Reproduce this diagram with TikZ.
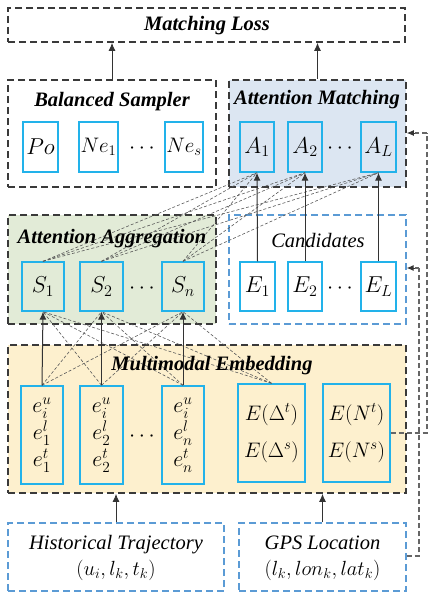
\RequirePackage{fix-cm}
\documentclass[tikz,border=0pt]{standalone}
\usepackage{fontspec}
\setmainfont{Liberation Serif}
\usetikzlibrary{arrows.meta}
\definecolor{cyanb}{HTML}{22B2EA}
\definecolor{blued}{HTML}{5B9BD5}
\definecolor{grpd}{HTML}{3A3A3A}
\definecolor{fblue}{HTML}{DCE6F2}
\definecolor{fgreen}{HTML}{E2EBD7}
\definecolor{fyel}{HTML}{FDF0CE}
\tikzset{
  grp/.style={draw=grpd, line width=1.6pt, dash pattern=on 7pt off 4pt, inner sep=0pt},
  bgrp/.style={draw=blued, line width=1.3pt, dash pattern=on 7pt off 4pt, inner sep=0pt},
  cell/.style={draw=cyanb, line width=1.4pt, inner sep=0pt, font=\fontsize{23}{26}\selectfont},
  ttl/.style={font=\fontsize{20.5}{22}\selectfont\bfseries\itshape, text=black},
  ttn/.style={font=\fontsize{20.5}{22}\selectfont\itshape, text=black},
  sarr/.style={draw=black!80, line width=1pt, -{Latex[length=8pt,width=7pt]}},
  darr/.style={draw=black!65, line width=0.6pt, dash pattern=on 3pt off 2pt},
  fb/.style={draw=black!60, line width=1.1pt, dash pattern=on 5pt off 3pt},
  dots/.style={font=\fontsize{22}{22}\selectfont},
  estack/.style={cell, align=center, font=\fontsize{22}{27}\selectfont, minimum height=98pt},
  dstack/.style={cell, align=center, font=\fontsize{21}{37}\selectfont, minimum width=67pt, minimum height=98pt}
}
\begin{document}
\begin{tikzpicture}[x=1pt,y=-1pt]
\useasboundingbox (0,0) rectangle (441,605);
% group boxes
\node[grp, minimum width=397pt, minimum height=34pt] (loss) at (206.5,25) {};
\node[grp, minimum width=208pt, minimum height=107pt] (bs) at (112,133.5) {};
\node[grp, fill=fblue, minimum width=177pt, minimum height=107pt] (am) at (317.5,133.5) {};
\node[grp, fill=fgreen, minimum width=208pt, minimum height=109pt] (aa) at (112,269.5) {};
\node[bgrp, minimum width=177pt, minimum height=109pt] (cand) at (317.5,269.5) {};
\node[grp, fill=fyel, minimum width=398pt, minimum height=148pt] (me) at (207,419) {};
\node[bgrp, minimum width=216pt, minimum height=68pt] (ht) at (116,557) {};
\node[bgrp, minimum width=167pt, minimum height=68pt] (gps) at (322.5,557) {};
% titles
\node[ttl] (tloss) at (207,26) {Matching Loss};
\node[ttl] (tbs) at (112,102) {Balanced Sampler};
\node[ttl] (tam) at (317,100) {Attention Matching};
\node[ttn] (tcand) at (318,240) {Candidates};
\node[ttn, align=center, font=\fontsize{20.5}{26}\selectfont\itshape] (tht) at (116,558) {Historical Trajectory\\$(u_i,l_k,t_k)$};
\node[ttn, align=center, font=\fontsize{20.5}{26}\selectfont\itshape] (tgps) at (322.5,558) {GPS Location\\$(l_k,lon_k,lat_k)$};
% balanced sampler cells
\node[cell, minimum width=35pt, minimum height=50pt] (po) at (40.5,147) {$Po$};
\node[cell, minimum width=39pt, minimum height=50pt, font=\fontsize{21}{24}\selectfont] (ne1) at (98.5,147) {$Ne_1$};
\node[cell, minimum width=38pt, minimum height=50pt, font=\fontsize{21}{24}\selectfont] (nes) at (184,147) {$Ne_s$};
\node[dots] (d1) at (142,149) {$\cdots$};
% attention matching cells
\node[cell, minimum width=34pt, minimum height=50pt] (a1) at (257,147) {$A_1$};
\node[cell, minimum width=34pt, minimum height=50pt] (a2) at (305,147) {$A_2$};
\node[cell, minimum width=35pt, minimum height=50pt] (al) at (378.5,147) {$A_L$};
\node[dots] (d2) at (340,149) {$\cdots$};
% aggregation cells
\node[cell, minimum width=42pt, minimum height=49pt] (s1) at (43,286.5) {$S_1$};
\node[cell, minimum width=43pt, minimum height=49pt] (s2) at (101.5,286.5) {$S_2$};
\node[cell, minimum width=42pt, minimum height=49pt] (sn) at (183,286.5) {$S_n$};
\node[dots] (d3) at (142,289) {$\cdots$};
% candidates cells
\node[cell, minimum width=35pt, minimum height=49pt] (e1c) at (257.5,286.5) {$E_1$};
\node[cell, minimum width=34pt, minimum height=49pt] (e2c) at (305,286.5) {$E_2$};
\node[cell, minimum width=35pt, minimum height=49pt] (elc) at (378.5,286.5) {$E_L$};
\node[dots] (d4) at (340,289) {$\cdots$};
% embedding cells
\node[estack, minimum width=42pt] (em1) at (42,435) {$e_i^u$\\$e_1^l$\\$e_1^t$};
\node[estack, minimum width=43pt] (em2) at (101.5,435) {$e_i^u$\\$e_2^l$\\$e_2^t$};
\node[estack, minimum width=42pt] (emn) at (183,435) {$e_i^u$\\$e_n^l$\\$e_n^t$};
\node[dots] (d5) at (142,437) {$\cdots$};
\node[dstack] (edl) at (271.5,433) {$E(\Delta^t)$\\$E(\Delta^s)$};
\node[dstack] (enn) at (356.5,433) {$E(N^t)$\\$E(N^s)$};
% dashed attention links S -> A
\foreach \s in {s1,s2,sn}{
  \foreach \a in {a1,a2,al}{
    \draw[darr] (\s.north) -- (\a.south);
  }
}
% dashed embedding links e -> S
\draw[darr] (em2.north) -- (s1.south);
\draw[darr] (emn.north) -- (s1.south);
\draw[darr] (edl.north) -- (s1.south);
\draw[darr] (em1.north) -- (s2.south);
\draw[darr] (emn.north) -- (s2.south);
\draw[darr] (edl.north) -- (s2.south);
\draw[darr] (em1.north) -- (sn.south);
\draw[darr] (em2.north) -- (sn.south);
\draw[darr] (edl.north) -- (sn.south);
% titles drawn over lines
\node[ttl] (taa) at (112,239) {Attention Aggregation};
\node[ttl] (tme) at (212,366) {Multimodal Embedding};
% solid arrows
\draw[sarr] (em1.north) -- (s1.south);
\draw[sarr] (em2.north) -- (s2.south);
\draw[sarr] (emn.north) -- (sn.south);
\draw[sarr] (e1c.north) -- (a1.south);
\draw[sarr] (e2c.north) -- (a2.south);
\draw[sarr] (elc.north) -- (al.south);
\draw[sarr] (bs.north) -- (bs.north |- loss.south);
\draw[sarr] (am.north) -- (am.north |- loss.south);
\draw[sarr] (ht.north) -- (ht.north |- me.south);
\draw[sarr] (gps.north) -- (gps.north |- me.south);
% feedback lines
\coordinate (f1a) at (419,556);
\coordinate (f1b) at (419,268);
\coordinate (f2a) at (427,433);
\coordinate (f2b) at (427,133);
\draw[fb] (gps.east |- f1a) -- (f1a) -- (f1b);
\draw[fb] (f1b) -- ([xshift=8pt]cand.east |- f1b);
\draw[-{Latex[length=7pt,width=6pt]}, black!80, line width=0.9pt] ([xshift=8pt]cand.east |- f1b) -- (cand.east |- f1b);
\draw[fb] (enn.east |- f2a) -- (f2a) -- (f2b);
\draw[fb] (f2b) -- ([xshift=8pt]am.east |- f2b);
\draw[-{Latex[length=7pt,width=6pt]}, black!80, line width=0.9pt] ([xshift=8pt]am.east |- f2b) -- (am.east |- f2b);
\end{tikzpicture}
\end{document}
